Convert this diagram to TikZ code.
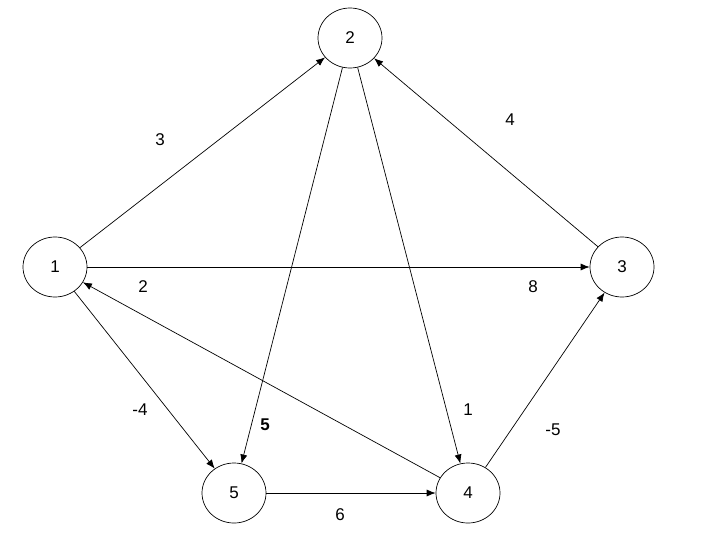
\documentclass[tikz,border=0pt]{standalone}
\usepackage{fontspec}
\setmainfont{Liberation Sans}
\usetikzlibrary{arrows.meta,shapes.geometric}
\begin{document}
\begin{tikzpicture}[x=1pt,y=-1pt,
  vtx/.style={draw,ellipse,minimum width=64pt,minimum height=60pt,inner sep=0pt,font=\fontsize{17}{17}\selectfont,line width=0.7pt},
  edge/.style={-{Latex[length=9pt,width=7pt]},line width=0.7pt},
  lbl/.style={font=\fontsize{17}{17}\selectfont}]
\useasboundingbox (0,0) rectangle (717,554);
\node[vtx] (n1) at (55,267) {1};
\node[vtx] (n2) at (350,38) {2};
\node[vtx] (n3) at (622,267) {3};
\node[vtx] (n4) at (468,493) {4};
\node[vtx] (n5) at (234,493) {5};
\draw[edge] (n1) -- (n2);
\draw[edge] (n1) -- (n3);
\draw[edge] (n3) -- (n2);
\draw[edge] (n2) -- (n5);
\draw[edge] (n2) -- (n4);
\draw[edge] (n1) -- (n5);
\draw[edge] (n5) -- (n4);
\draw[edge] (n4) -- (n3);
\draw[edge] (n4) -- (n1);
\node[lbl] (l3) at (160,140) {3};
\node[lbl] (l8) at (533,287) {8};
\node[lbl] (l2) at (143,287) {2};
\node[lbl] (l4) at (510,120) {4};
\node[lbl,font=\fontsize{17}{17}\selectfont\bfseries] (l5) at (265,425) {5};
\node[lbl] (l1) at (468,410) {1};
\node[lbl] (lm4) at (140,410) {-4};
\node[lbl] (l6) at (340,515) {6};
\node[lbl] (lm5) at (553,430) {-5};
\end{tikzpicture}
\end{document}
